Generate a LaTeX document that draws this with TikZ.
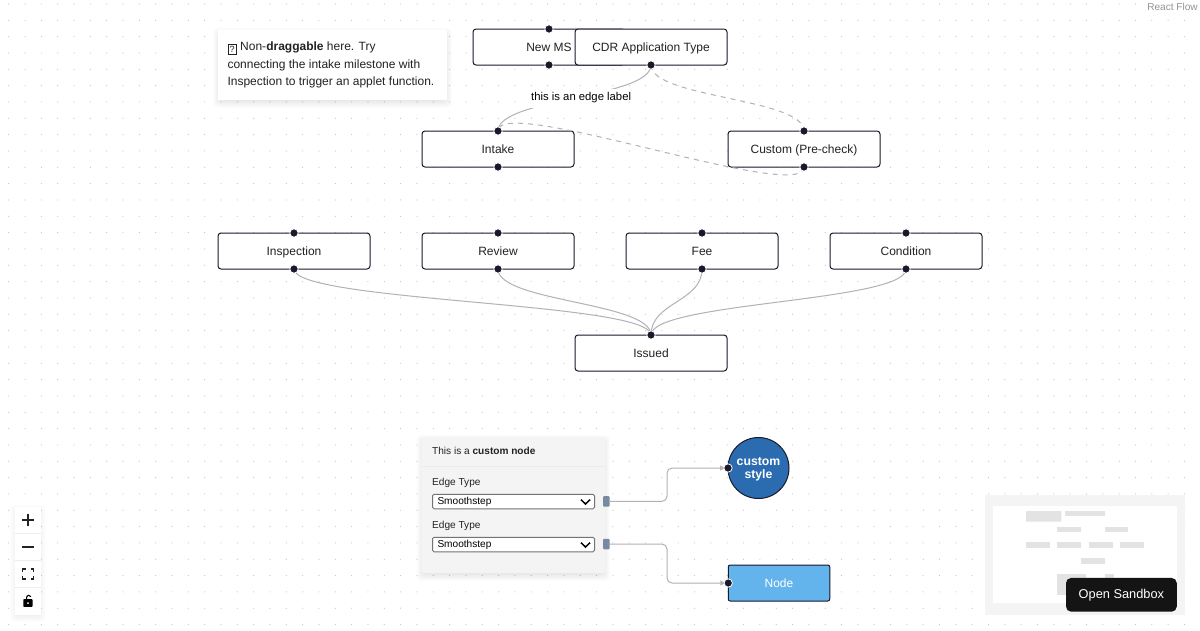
\documentclass[tikz,border=0pt]{standalone}
\usepackage{fontspec}
\setmainfont{Liberation Sans}
\usetikzlibrary{arrows.meta}
\definecolor{ink}{HTML}{1A192B}
\definecolor{wire}{HTML}{B1B1B7}
\definecolor{txt}{HTML}{222222}
\definecolor{slotgray}{HTML}{778AA0}
\definecolor{circblue}{HTML}{2B6CB0}
\definecolor{boxblue}{HTML}{63B3ED}
\newcommand{\softshadow}[5]{%
	\foreach \g in {1,...,8}
		\fill[black,opacity=#5,rounded corners=4pt] (#1-\g+3,#2-\g+6) rectangle (#3+\g-3,#4+\g);
}
\newcommand{\qbox}{{\setlength{\fboxsep}{1.4pt}\setlength{\fboxrule}{.8pt}\raisebox{-2pt}{\fbox{\fontsize{9}{9}\selectfont ?}}}}

\begin{document}
\begin{tikzpicture}[x=1pt,y=-1pt,
		font=\fontsize{12}{14}\selectfont,text=txt,
		flow/.style={draw=ink,fill=white,line width=1pt,rounded corners=3pt,minimum width=152pt,minimum height=36pt,inner sep=0pt,outer sep=0pt,text height=9pt,text depth=.2pt},
		port/.style={circle,fill=ink,draw=white,line width=.8pt,minimum size=8.3pt,inner sep=0pt,outer sep=0pt},
		edge/.style={draw=wire,line width=1pt},
		animated/.style={edge,dash pattern=on 5pt off 5pt},
		stepedge/.style={edge,rounded corners=5pt,shorten >=3pt,-{Triangle[length=5pt,width=5pt,fill=wire]}},
		slot/.style={fill=slotgray,rounded corners=1pt,minimum width=6.5pt,minimum height=10.5pt,inner sep=0pt,outer sep=0pt},
		tag/.style={anchor=west,inner sep=0pt,font=\fontsize{10.1}{12}\selectfont},
		pick/.style={draw=black!55,fill=white,line width=1pt,rounded corners=1.5pt,minimum width=162pt,minimum height=14.5pt,inner sep=0pt,outer sep=0pt},
		chev/.style={draw=black,line width=1.5pt},
		mini/.style={fill=black!11},
		tool/.style={fill=white,minimum width=26.5pt,minimum height=27pt,inner sep=0pt,outer sep=0pt},
		glyph/.style={draw=txt,line width=1.7pt}]
	\useasboundingbox (0,0) rectangle (1200,630);
	\fill[white] (0,0) rectangle (1200,630);

	% background dots
	\foreach \i in {0,...,73}
		\foreach \j in {0,...,38}
			\fill[black!23] ({8.7+16.33*\i},{4+16.33*\j}) circle (.6);

	\node[text=black!42,font=\fontsize{10.1}{12}\selectfont,fill=white,inner sep=1.5pt] (brand) at (1172.5,7) {React Flow};

	% top row
	\node[flow] (newms) at (549,47) {New MS};
	\node[flow] (cdr) at (651,47) {CDR Application Type};
	\node[flow] (intake) at (498,149) {Intake};
	\node[flow] (precheck) at (804,149) {Custom (Pre-check)};

	\draw[edge] (cdr.south) .. controls +(0,33) and +(0,-33) .. node[fill=white,inner sep=0pt,minimum width=87pt,minimum height=19pt] (elabel) {} (intake.north);
	\node[anchor=west,inner sep=0pt,text=black,font=\fontsize{11.3}{13}\selectfont] (elabeltext) at (531,97.8) {this is an edge label};
	\draw[animated] (cdr.south) .. controls +(0,33) and +(0,-33) .. (precheck.north);
	\draw[animated] (precheck.south) .. controls +(0,37.5) and +(0,-37.5) .. (intake.north);

	% middle rows
	\node[flow] (inspection) at (294,251) {Inspection};
	\node[flow] (review) at (498,251) {Review};
	\node[flow] (fee) at (702,251) {Fee};
	\node[flow] (condition) at (906,251) {Condition};
	\node[flow] (issued) at (651,353) {Issued};

	\foreach \from in {inspection,review,fee,condition}
		\draw[edge] (\from.south) .. controls +(0,33) and +(0,-33) .. (issued.north);

	% note
	\softshadow{218}{30}{447}{99.5}{.012}
	\node[fill=white,anchor=north west,minimum width=229pt,minimum height=69.5pt,inner sep=0pt] (note) at (218,30) {};
	\node[anchor=west,inner sep=0pt,align=left,font=\fontsize{12}{17.6}\selectfont] (notetext) at (227.3,65.2) {\qbox{} Non-\textbf{draggable} here. Try\\connecting the intake milestone with\\Inspection to trigger an applet function.};

	% custom node
	\softshadow{421.5}{437}{605}{573}{.012}
	\node[fill=black!4.5,rounded corners=3pt,anchor=north west,minimum width=183.5pt,minimum height=136pt,inner sep=0pt] (card) at (421.5,437) {};
	\draw[black!8,line width=1pt] (card.west |- 0,466) -- (card.east |- 0,466);
	\node[tag] (cardtitle) at (432,450.5) {This is a \textbf{custom node}};
	\node[tag] (typea) at (432,483) {Edge Type};
	\node[tag] (typeb) at (432,526) {Edge Type};
	\node[pick] (picka) at (513.5,501.5) {};
	\node[pick] (pickb) at (513.5,544.5) {};
	\node[tag,text=black] (texta) at (437.3,501.5) {Smoothstep};
	\node[tag,text=black] (textb) at (437.3,544.5) {Smoothstep};
	\draw[chev] (581,499.7) -- (585.5,504) -- (590,499.7);
	\draw[chev] (581,542.7) -- (585.5,547) -- (590,542.7);
	\node[slot] (slota) at (606.3,501.3) {};
	\node[slot] (slotb) at (606.3,544) {};

	\node[circle,draw=ink,fill=circblue,line width=1pt,minimum size=61pt,inner sep=0pt,outer sep=0pt,text=white,align=center,text depth=0pt,font=\fontsize{12.24}{13}\selectfont\bfseries] (circ) at (758.5,468) {custom\\style};
	\node[draw=ink,fill=boxblue,line width=1pt,rounded corners=2pt,minimum width=101.5pt,minimum height=36pt,inner sep=0pt,outer sep=0pt,text=white] (blue) at (779,583) {Node};

	\coordinate (bendA) at (667,485);
	\coordinate (bendB) at (667,565);
	\draw[stepedge] (slota.east) -| (bendA) |- (circ.west);
	\draw[stepedge] (slotb.east) -| (bendB) |- (blue.west);

	% handles
	\foreach \p [count=\n] in {newms.north,newms.south,cdr.south,intake.north,intake.south,precheck.north,precheck.south,inspection.north,inspection.south,review.north,review.south,fee.north,fee.south,condition.north,condition.south,issued.north,circ.west,blue.west}
		\node[port] (h\n) at (\p) {};

	% controls
	\softshadow{15}{507}{41}{614}{.006}
	\node[tool] (zoomin) at (28,520) {};
	\node[tool] (zoomout) at (28,547) {};
	\node[tool] (fitview) at (28,574) {};
	\node[tool] (lock) at (28,601) {};
	\foreach \y in {533.5,560.5,587.5}
		\draw[black!7,line width=1pt] (15,\y) -- (41,\y);
	\draw[glyph] (22,520) -- (34,520) (28,514) -- (28,526);
	\draw[glyph] (22,547) -- (34,547);
	\draw[glyph,line width=1.6pt] (22.5,571.5) -- (22.5,569) -- (25.5,569) (30.5,569) -- (33.5,569) -- (33.5,571.5)
		(33.5,576) -- (33.5,579) -- (30.5,579) (25.5,579) -- (22.5,579) -- (22.5,576);
	\fill[black,rounded corners=.7pt] (23.3,599.2) rectangle (32.5,606.8);
	\fill[white] (28,603) circle (1);
	\draw[black,line width=1.1pt] (26.6,599.4) -- (26.6,597.5) arc[start angle=180,end angle=20,x radius=2.2,y radius=-2.2];

	% minimap
	\fill[black!4.5] (985,495) rectangle (1185,615);
	\fill[white] (992.7,506) rectangle (1177.3,603);
	\fill[mini,rounded corners=.5pt] (1026,511) rectangle (1061.3,521.7);
	\fill[mini] (1065,511) rectangle (1104.7,516);
	\fill[mini] (1057.3,526.7) rectangle (1081,532.3);
	\fill[mini] (1104.7,526.7) rectangle (1128.3,532.3);
	\fill[mini] (1026,542) rectangle (1049.7,548);
	\fill[mini] (1057.3,542) rectangle (1081,548);
	\fill[mini] (1089,542) rectangle (1112.7,548);
	\fill[mini] (1120.3,542) rectangle (1144,548);
	\fill[mini] (1081,558) rectangle (1104.7,563.7);
	\fill[mini] (1057.3,573.7) rectangle (1086,595);
	\fill[mini] (1104.7,573.7) rectangle (1114,585);

	\node[fill=black!92,rounded corners=5pt,minimum width=110.7pt,minimum height=33.7pt,inner sep=0pt,text=white,font=\fontsize{12.8}{15}\selectfont] (sandbox) at (1121.4,594.8) {Open Sandbox};
\end{tikzpicture}
\end{document}
